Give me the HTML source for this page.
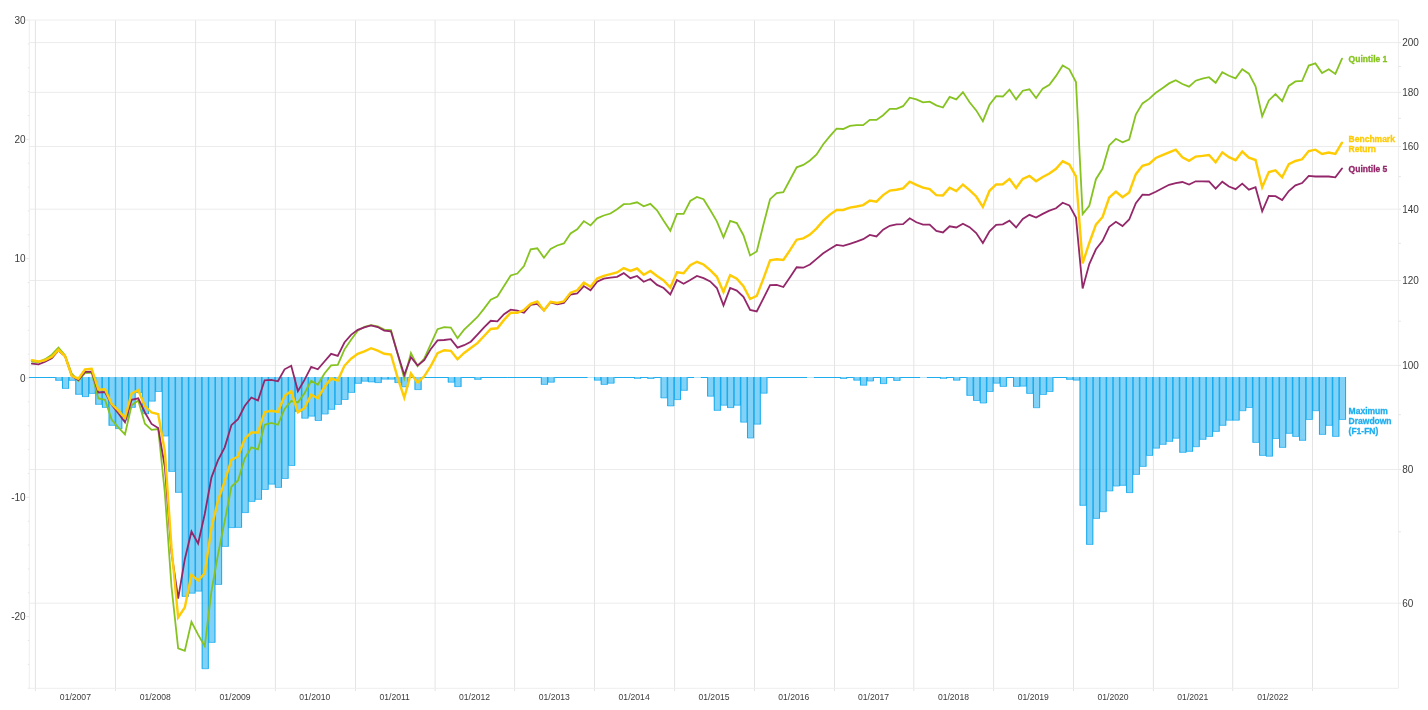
<!DOCTYPE html>
<html><head><meta charset="utf-8"><title>Chart</title>
<style>
html,body{margin:0;padding:0;background:#fff;}
body{width:1428px;height:710px;overflow:hidden;position:relative;font-family:"Liberation Sans",sans-serif;}
svg text{font-family:"Liberation Sans",sans-serif;}
</style></head><body>
<svg width="1428" height="710" viewBox="0 0 1428 710" style="position:absolute;left:0;top:0;filter:blur(0.45px)">
<rect x="0" y="0" width="1428" height="710" fill="#ffffff"/>
<path d="M29.30 42.60H1398.40M29.30 92.40H1398.40M29.30 146.50H1398.40M29.30 209.20H1398.40M29.30 280.50H1398.40M29.30 365.40H1398.40M29.30 469.50H1398.40M29.30 603.20H1398.40" stroke="#ececec" stroke-width="1" fill="none"/>
<path d="M35.40 20.00V691.10M115.50 20.00V691.10M195.60 20.00V691.10M275.40 20.00V691.10M355.50 20.00V691.10M435.10 20.00V691.10M514.60 20.00V691.10M594.50 20.00V691.10M674.60 20.00V691.10M754.50 20.00V691.10M834.50 20.00V691.10M913.80 20.00V691.10M993.60 20.00V691.10M1073.50 20.00V691.10M1153.40 20.00V691.10M1232.70 20.00V691.10M1312.50 20.00V691.10" stroke="#e4e4e4" stroke-width="1" fill="none"/>
<path d="M29.30 20.00H1398.40V688.30H29.30Z" stroke="#eeeeee" stroke-width="1" fill="none"/>
<path d="M27.80 688.23H29.30M27.80 664.37H29.30M27.80 640.50H29.30M26.30 616.64H29.30M27.80 592.78H29.30M27.80 568.91H29.30M27.80 545.05H29.30M27.80 521.18H29.30M26.30 497.32H29.30M27.80 473.46H29.30M27.80 449.59H29.30M27.80 425.73H29.30M27.80 401.86H29.30M26.30 378.00H29.30M27.80 354.14H29.30M27.80 330.27H29.30M27.80 306.41H29.30M27.80 282.54H29.30M26.30 258.68H29.30M27.80 234.82H29.30M27.80 210.95H29.30M27.80 187.09H29.30M27.80 163.22H29.30M26.30 139.36H29.30M27.80 115.50H29.30M27.80 91.63H29.30M27.80 67.77H29.30M27.80 43.90H29.30M26.30 20.04H29.30M1398.40 66.50H1400.90M1398.40 118.33H1400.90M1398.40 176.66H1400.90M1398.40 243.34H1400.90M1398.40 321.19H1400.90M1398.40 414.70H1400.90M1398.40 531.82H1400.90M1398.40 42.60H1400.90M1398.40 92.40H1400.90M1398.40 146.50H1400.90M1398.40 209.20H1400.90M1398.40 280.50H1400.90M1398.40 365.40H1400.90M1398.40 469.50H1400.90M1398.40 603.20H1400.90" stroke="#e6e6e6" stroke-width="1" fill="none"/>
<path d="M55.60 377.00H62.25V380.40H55.60ZM62.25 377.00H68.90V388.50H62.25ZM68.90 377.00H75.55V380.40H68.90ZM75.55 377.00H82.20V394.40H75.55ZM82.20 377.00H88.85V396.70H82.20ZM88.85 377.00H95.50V393.50H88.85ZM95.50 377.00H102.16V404.40H95.50ZM102.16 377.00H108.81V407.50H102.16ZM108.81 377.00H115.46V425.40H108.81ZM115.46 377.00H122.11V428.70H115.46ZM122.11 377.00H128.76V420.00H122.11ZM128.76 377.00H135.41V407.50H128.76ZM135.41 377.00H142.06V392.70H135.41ZM142.06 377.00H148.71V413.90H142.06ZM148.71 377.00H155.36V401.20H148.71ZM155.36 377.00H162.01V391.60H155.36ZM162.01 377.00H168.66V436.10H162.01ZM168.66 377.00H175.31V471.50H168.66ZM175.31 377.00H181.96V492.40H175.31ZM181.96 377.00H188.61V596.50H181.96ZM188.61 377.00H195.26V593.30H188.61ZM195.26 377.00H201.91V591.20H195.26ZM201.91 377.00H208.56V668.80H201.91ZM208.56 377.00H215.21V642.50H208.56ZM215.21 377.00H221.86V584.50H215.21ZM221.86 377.00H228.51V546.50H221.86ZM228.52 377.00H235.17V527.70H228.52ZM235.17 377.00H241.82V527.50H235.17ZM241.82 377.00H248.47V512.70H241.82ZM248.47 377.00H255.12V501.50H248.47ZM255.12 377.00H261.77V499.40H255.12ZM261.77 377.00H268.42V489.60H261.77ZM268.42 377.00H275.07V484.20H268.42ZM275.07 377.00H281.72V487.50H275.07ZM281.72 377.00H288.37V478.60H281.72ZM288.37 377.00H295.02V465.60H288.37ZM295.02 377.00H301.67V411.40H295.02ZM301.67 377.00H308.32V418.30H301.67ZM308.32 377.00H314.97V416.20H308.32ZM314.97 377.00H321.62V420.60H314.97ZM321.62 377.00H328.27V414.10H321.62ZM328.27 377.00H334.92V409.40H328.27ZM334.92 377.00H341.57V404.50H334.92ZM341.57 377.00H348.22V399.60H341.57ZM348.22 377.00H354.87V392.50H348.22ZM354.87 377.00H361.53V383.40H354.87ZM361.52 377.00H368.18V381.30H361.52ZM368.18 377.00H374.83V382.00H368.18ZM374.83 377.00H381.48V382.70H374.83ZM381.48 377.00H388.13V379.20H381.48ZM388.13 377.00H394.78V379.20H388.13ZM394.78 377.00H401.43V382.70H394.78ZM401.43 377.00H408.08V386.90H401.43ZM414.73 377.00H421.38V389.70H414.73ZM447.98 377.00H454.63V382.30H447.98ZM454.63 377.00H461.28V386.70H454.63ZM474.58 377.00H481.23V379.40H474.58ZM541.09 377.00H547.74V384.50H541.09ZM547.74 377.00H554.39V382.30H547.74ZM594.29 377.00H600.94V380.30H594.29ZM600.94 377.00H607.59V384.50H600.94ZM607.59 377.00H614.24V383.30H607.59ZM634.20 377.00H640.85V378.40H634.20ZM647.50 377.00H654.15V378.60H647.50ZM660.80 377.00H667.45V398.00H660.80ZM667.45 377.00H674.10V406.00H667.45ZM674.10 377.00H680.75V399.70H674.10ZM680.75 377.00H687.40V390.40H680.75ZM707.35 377.00H714.00V396.30H707.35ZM714.00 377.00H720.65V410.40H714.00ZM720.65 377.00H727.30V405.30H720.65ZM727.30 377.00H733.95V407.70H727.30ZM733.95 377.00H740.60V405.30H733.95ZM740.60 377.00H747.25V422.20H740.60ZM747.25 377.00H753.90V438.10H747.25ZM753.90 377.00H760.55V424.20H753.90ZM760.56 377.00H767.21V393.30H760.56ZM840.36 377.00H847.01V378.60H840.36ZM853.66 377.00H860.31V380.30H853.66ZM860.31 377.00H866.96V385.30H860.31ZM866.96 377.00H873.61V381.10H866.96ZM880.26 377.00H886.91V383.70H880.26ZM893.57 377.00H900.22V380.60H893.57ZM940.12 377.00H946.77V378.40H940.12ZM953.42 377.00H960.07V380.30H953.42ZM966.72 377.00H973.37V395.50H966.72ZM973.37 377.00H980.02V400.60H973.37ZM980.02 377.00H986.67V403.10H980.02ZM986.67 377.00H993.32V391.60H986.67ZM993.32 377.00H999.97V383.30H993.32ZM999.97 377.00H1006.62V386.50H999.97ZM1013.27 377.00H1019.92V386.50H1013.27ZM1019.92 377.00H1026.58V386.20H1019.92ZM1026.58 377.00H1033.23V393.50H1026.58ZM1033.23 377.00H1039.88V407.80H1033.23ZM1039.88 377.00H1046.53V394.60H1039.88ZM1046.53 377.00H1053.18V391.60H1046.53ZM1066.48 377.00H1073.13V379.40H1066.48ZM1073.13 377.00H1079.78V380.20H1073.13ZM1079.78 377.00H1086.43V505.40H1079.78ZM1086.43 377.00H1093.08V544.50H1086.43ZM1093.08 377.00H1099.73V518.50H1093.08ZM1099.73 377.00H1106.38V511.80H1099.73ZM1106.38 377.00H1113.03V491.00H1106.38ZM1113.03 377.00H1119.68V486.10H1113.03ZM1119.68 377.00H1126.33V485.40H1119.68ZM1126.33 377.00H1132.98V492.70H1126.33ZM1132.98 377.00H1139.63V474.50H1132.98ZM1139.63 377.00H1146.28V466.50H1139.63ZM1146.28 377.00H1152.93V455.50H1146.28ZM1152.93 377.00H1159.59V448.20H1152.93ZM1159.59 377.00H1166.24V444.40H1159.59ZM1166.24 377.00H1172.89V441.40H1166.24ZM1172.89 377.00H1179.54V438.30H1172.89ZM1179.54 377.00H1186.19V452.40H1179.54ZM1186.19 377.00H1192.84V451.40H1186.19ZM1192.84 377.00H1199.49V446.80H1192.84ZM1199.49 377.00H1206.14V439.40H1199.49ZM1206.14 377.00H1212.79V436.50H1206.14ZM1212.79 377.00H1219.44V431.50H1212.79ZM1219.44 377.00H1226.09V425.40H1219.44ZM1226.09 377.00H1232.74V420.30H1226.09ZM1232.74 377.00H1239.39V420.30H1232.74ZM1239.39 377.00H1246.04V410.80H1239.39ZM1246.04 377.00H1252.69V407.60H1246.04ZM1252.69 377.00H1259.34V442.50H1252.69ZM1259.34 377.00H1265.99V455.50H1259.34ZM1265.99 377.00H1272.64V456.30H1265.99ZM1272.64 377.00H1279.29V438.60H1272.64ZM1279.29 377.00H1285.94V447.50H1279.29ZM1285.94 377.00H1292.60V433.40H1285.94ZM1292.60 377.00H1299.25V436.50H1292.60ZM1299.25 377.00H1305.90V440.40H1299.25ZM1305.90 377.00H1312.55V419.60H1305.90ZM1312.55 377.00H1319.20V410.80H1312.55ZM1319.20 377.00H1325.85V434.50H1319.20ZM1325.85 377.00H1332.50V425.40H1325.85ZM1332.50 377.00H1339.15V436.50H1332.50ZM1339.15 377.00H1345.80V419.60H1339.15Z" fill="#1eaeef" fill-opacity="0.56" stroke="none"/>
<path d="M55.85 377.00V380.40M62.00 380.40V377.00M62.50 377.00V388.50M68.65 388.50V377.00M69.15 377.00V380.40M75.30 380.40V377.00M75.80 377.00V394.40M81.95 394.40V377.00M82.45 377.00V396.70M88.60 396.70V377.00M89.10 377.00V393.50M95.25 393.50V377.00M95.75 377.00V404.40M101.91 404.40V377.00M102.41 377.00V407.50M108.56 407.50V377.00M109.06 377.00V425.40M115.21 425.40V377.00M115.71 377.00V428.70M121.86 428.70V377.00M122.36 377.00V420.00M128.51 420.00V377.00M129.01 377.00V407.50M135.16 407.50V377.00M135.66 377.00V392.70M141.81 392.70V377.00M142.31 377.00V413.90M148.46 413.90V377.00M148.96 377.00V401.20M155.11 401.20V377.00M155.61 377.00V391.60M161.76 391.60V377.00M162.26 377.00V436.10M168.41 436.10V377.00M168.91 377.00V471.50M175.06 471.50V377.00M175.56 377.00V492.40M181.71 492.40V377.00M182.21 377.00V596.50M188.36 596.50V377.00M188.86 377.00V593.30M195.01 593.30V377.00M195.51 377.00V591.20M201.66 591.20V377.00M202.16 377.00V668.80M208.31 668.80V377.00M208.81 377.00V642.50M214.96 642.50V377.00M215.46 377.00V584.50M221.61 584.50V377.00M222.11 377.00V546.50M228.26 546.50V377.00M228.77 377.00V527.70M234.92 527.70V377.00M235.42 377.00V527.50M241.57 527.50V377.00M242.07 377.00V512.70M248.22 512.70V377.00M248.72 377.00V501.50M254.87 501.50V377.00M255.37 377.00V499.40M261.52 499.40V377.00M262.02 377.00V489.60M268.17 489.60V377.00M268.67 377.00V484.20M274.82 484.20V377.00M275.32 377.00V487.50M281.47 487.50V377.00M281.97 377.00V478.60M288.12 478.60V377.00M288.62 377.00V465.60M294.77 465.60V377.00M295.27 377.00V411.40M301.42 411.40V377.00M301.92 377.00V418.30M308.07 418.30V377.00M308.57 377.00V416.20M314.72 416.20V377.00M315.22 377.00V420.60M321.37 420.60V377.00M321.87 377.00V414.10M328.02 414.10V377.00M328.52 377.00V409.40M334.67 409.40V377.00M335.17 377.00V404.50M341.32 404.50V377.00M341.82 377.00V399.60M347.97 399.60V377.00M348.47 377.00V392.50M354.62 392.50V377.00M355.12 377.00V383.40M361.28 383.40V377.00M361.77 377.00V381.30M367.93 381.30V377.00M368.43 377.00V382.00M374.58 382.00V377.00M375.08 377.00V382.70M381.23 382.70V377.00M381.73 377.00V379.20M387.88 379.20V377.00M388.38 377.00V379.20M394.53 379.20V377.00M395.03 377.00V382.70M401.18 382.70V377.00M401.68 377.00V386.90M407.83 386.90V377.00M414.98 377.00V389.70M421.13 389.70V377.00M448.23 377.00V382.30M454.38 382.30V377.00M454.88 377.00V386.70M461.03 386.70V377.00M474.83 377.00V379.40M480.98 379.40V377.00M541.34 377.00V384.50M547.49 384.50V377.00M547.99 377.00V382.30M554.14 382.30V377.00M594.54 377.00V380.30M600.69 380.30V377.00M601.19 377.00V384.50M607.34 384.50V377.00M607.84 377.00V383.30M613.99 383.30V377.00M634.45 377.00V378.40M640.60 378.40V377.00M647.75 377.00V378.60M653.90 378.60V377.00M661.05 377.00V398.00M667.20 398.00V377.00M667.70 377.00V406.00M673.85 406.00V377.00M674.35 377.00V399.70M680.50 399.70V377.00M681.00 377.00V390.40M687.15 390.40V377.00M707.60 377.00V396.30M713.75 396.30V377.00M714.25 377.00V410.40M720.40 410.40V377.00M720.90 377.00V405.30M727.05 405.30V377.00M727.55 377.00V407.70M733.70 407.70V377.00M734.20 377.00V405.30M740.35 405.30V377.00M740.85 377.00V422.20M747.00 422.20V377.00M747.50 377.00V438.10M753.65 438.10V377.00M754.15 377.00V424.20M760.30 424.20V377.00M760.81 377.00V393.30M766.96 393.30V377.00M840.61 377.00V378.60M846.76 378.60V377.00M853.91 377.00V380.30M860.06 380.30V377.00M860.56 377.00V385.30M866.71 385.30V377.00M867.21 377.00V381.10M873.36 381.10V377.00M880.51 377.00V383.70M886.66 383.70V377.00M893.82 377.00V380.60M899.97 380.60V377.00M940.37 377.00V378.40M946.52 378.40V377.00M953.67 377.00V380.30M959.82 380.30V377.00M966.97 377.00V395.50M973.12 395.50V377.00M973.62 377.00V400.60M979.77 400.60V377.00M980.27 377.00V403.10M986.42 403.10V377.00M986.92 377.00V391.60M993.07 391.60V377.00M993.57 377.00V383.30M999.72 383.30V377.00M1000.22 377.00V386.50M1006.37 386.50V377.00M1013.52 377.00V386.50M1019.67 386.50V377.00M1020.17 377.00V386.20M1026.33 386.20V377.00M1026.83 377.00V393.50M1032.98 393.50V377.00M1033.48 377.00V407.80M1039.63 407.80V377.00M1040.13 377.00V394.60M1046.28 394.60V377.00M1046.78 377.00V391.60M1052.93 391.60V377.00M1066.73 377.00V379.40M1072.88 379.40V377.00M1073.38 377.00V380.20M1079.53 380.20V377.00M1080.03 377.00V505.40M1086.18 505.40V377.00M1086.68 377.00V544.50M1092.83 544.50V377.00M1093.33 377.00V518.50M1099.48 518.50V377.00M1099.98 377.00V511.80M1106.13 511.80V377.00M1106.63 377.00V491.00M1112.78 491.00V377.00M1113.28 377.00V486.10M1119.43 486.10V377.00M1119.93 377.00V485.40M1126.08 485.40V377.00M1126.58 377.00V492.70M1132.73 492.70V377.00M1133.23 377.00V474.50M1139.38 474.50V377.00M1139.88 377.00V466.50M1146.03 466.50V377.00M1146.53 377.00V455.50M1152.68 455.50V377.00M1153.18 377.00V448.20M1159.34 448.20V377.00M1159.84 377.00V444.40M1165.99 444.40V377.00M1166.49 377.00V441.40M1172.64 441.40V377.00M1173.14 377.00V438.30M1179.29 438.30V377.00M1179.79 377.00V452.40M1185.94 452.40V377.00M1186.44 377.00V451.40M1192.59 451.40V377.00M1193.09 377.00V446.80M1199.24 446.80V377.00M1199.74 377.00V439.40M1205.89 439.40V377.00M1206.39 377.00V436.50M1212.54 436.50V377.00M1213.04 377.00V431.50M1219.19 431.50V377.00M1219.69 377.00V425.40M1225.84 425.40V377.00M1226.34 377.00V420.30M1232.49 420.30V377.00M1232.99 377.00V420.30M1239.14 420.30V377.00M1239.64 377.00V410.80M1245.79 410.80V377.00M1246.29 377.00V407.60M1252.44 407.60V377.00M1252.94 377.00V442.50M1259.09 442.50V377.00M1259.59 377.00V455.50M1265.74 455.50V377.00M1266.24 377.00V456.30M1272.39 456.30V377.00M1272.89 377.00V438.60M1279.04 438.60V377.00M1279.54 377.00V447.50M1285.69 447.50V377.00M1286.19 377.00V433.40M1292.35 433.40V377.00M1292.85 377.00V436.50M1299.00 436.50V377.00M1299.50 377.00V440.40M1305.65 440.40V377.00M1306.15 377.00V419.60M1312.30 419.60V377.00M1312.80 377.00V410.80M1318.95 410.80V377.00M1319.45 377.00V434.50M1325.60 434.50V377.00M1326.10 377.00V425.40M1332.25 425.40V377.00M1332.75 377.00V436.50M1338.90 436.50V377.00M1339.40 377.00V419.60M1345.55 419.60V377.00" fill="none" stroke="#19acef" stroke-width="1.05" stroke-opacity="1"/>
<path d="M55.60 380.30H62.25M62.25 388.40H68.90M68.90 380.30H75.55M75.55 394.30H82.20M82.20 396.60H88.85M88.85 393.40H95.50M95.50 404.30H102.16M102.16 407.40H108.81M108.81 425.30H115.46M115.46 428.60H122.11M122.11 419.90H128.76M128.76 407.40H135.41M135.41 392.60H142.06M142.06 413.80H148.71M148.71 401.10H155.36M155.36 391.50H162.01M162.01 436.00H168.66M168.66 471.40H175.31M175.31 492.30H181.96M181.96 596.40H188.61M188.61 593.20H195.26M195.26 591.10H201.91M201.91 668.70H208.56M208.56 642.40H215.21M215.21 584.40H221.86M221.86 546.40H228.51M228.52 527.60H235.17M235.17 527.40H241.82M241.82 512.60H248.47M248.47 501.40H255.12M255.12 499.30H261.77M261.77 489.50H268.42M268.42 484.10H275.07M275.07 487.40H281.72M281.72 478.50H288.37M288.37 465.50H295.02M295.02 411.30H301.67M301.67 418.20H308.32M308.32 416.10H314.97M314.97 420.50H321.62M321.62 414.00H328.27M328.27 409.30H334.92M334.92 404.40H341.57M341.57 399.50H348.22M348.22 392.40H354.87M354.87 383.30H361.53M361.52 381.20H368.18M368.18 381.90H374.83M374.83 382.60H381.48M381.48 379.10H388.13M388.13 379.10H394.78M394.78 382.60H401.43M401.43 386.80H408.08M414.73 389.60H421.38M447.98 382.20H454.63M454.63 386.60H461.28M474.58 379.30H481.23M541.09 384.40H547.74M547.74 382.20H554.39M594.29 380.20H600.94M600.94 384.40H607.59M607.59 383.20H614.24M634.20 378.30H640.85M647.50 378.50H654.15M660.80 397.90H667.45M667.45 405.90H674.10M674.10 399.60H680.75M680.75 390.30H687.40M707.35 396.20H714.00M714.00 410.30H720.65M720.65 405.20H727.30M727.30 407.60H733.95M733.95 405.20H740.60M740.60 422.10H747.25M747.25 438.00H753.90M753.90 424.10H760.55M760.56 393.20H767.21M840.36 378.50H847.01M853.66 380.20H860.31M860.31 385.20H866.96M866.96 381.00H873.61M880.26 383.60H886.91M893.57 380.50H900.22M940.12 378.30H946.77M953.42 380.20H960.07M966.72 395.40H973.37M973.37 400.50H980.02M980.02 403.00H986.67M986.67 391.50H993.32M993.32 383.20H999.97M999.97 386.40H1006.62M1013.27 386.40H1019.92M1019.92 386.10H1026.58M1026.58 393.40H1033.23M1033.23 407.70H1039.88M1039.88 394.50H1046.53M1046.53 391.50H1053.18M1066.48 379.30H1073.13M1073.13 380.10H1079.78M1079.78 505.30H1086.43M1086.43 544.40H1093.08M1093.08 518.40H1099.73M1099.73 511.70H1106.38M1106.38 490.90H1113.03M1113.03 486.00H1119.68M1119.68 485.30H1126.33M1126.33 492.60H1132.98M1132.98 474.40H1139.63M1139.63 466.40H1146.28M1146.28 455.40H1152.93M1152.93 448.10H1159.59M1159.59 444.30H1166.24M1166.24 441.30H1172.89M1172.89 438.20H1179.54M1179.54 452.30H1186.19M1186.19 451.30H1192.84M1192.84 446.70H1199.49M1199.49 439.30H1206.14M1206.14 436.40H1212.79M1212.79 431.40H1219.44M1219.44 425.30H1226.09M1226.09 420.20H1232.74M1232.74 420.20H1239.39M1239.39 410.70H1246.04M1246.04 407.50H1252.69M1252.69 442.40H1259.34M1259.34 455.40H1265.99M1265.99 456.20H1272.64M1272.64 438.50H1279.29M1279.29 447.40H1285.94M1285.94 433.30H1292.60M1292.60 436.40H1299.25M1299.25 440.30H1305.90M1305.90 419.50H1312.55M1312.55 410.70H1319.20M1319.20 434.40H1325.85M1325.85 425.30H1332.50M1332.50 436.40H1339.15M1339.15 419.50H1345.80" stroke="#1eaeef" stroke-width="1" stroke-opacity="0.7" fill="none"/>
<path d="M29.00 377.50H35.65M35.65 377.50H42.30M42.30 377.50H48.95M48.95 377.50H55.60M408.08 377.50H414.73M421.38 377.50H428.03M428.03 377.50H434.68M434.68 377.50H441.33M441.33 377.50H447.98M461.28 377.50H467.93M467.93 377.50H474.58M481.23 377.50H487.88M487.88 377.50H494.54M494.54 377.50H501.19M501.19 377.50H507.84M507.84 377.50H514.49M514.49 377.50H521.14M521.14 377.50H527.79M527.79 377.50H534.44M534.44 377.50H541.09M554.39 377.50H561.04M561.04 377.50H567.69M567.69 377.50H574.34M574.34 377.50H580.99M580.99 377.50H587.64M614.24 377.50H620.89M620.89 377.50H627.54M627.54 377.50H634.20M640.85 377.50H647.50M654.15 377.50H660.80M687.40 377.50H694.05M700.70 377.50H707.35M767.21 377.50H773.86M773.86 377.50H780.51M780.51 377.50H787.16M787.16 377.50H793.81M793.81 377.50H800.46M800.46 377.50H807.11M813.76 377.50H820.41M820.41 377.50H827.06M827.06 377.50H833.71M833.71 377.50H840.36M847.01 377.50H853.66M873.61 377.50H880.26M886.91 377.50H893.56M900.22 377.50H906.87M906.87 377.50H913.52M913.52 377.50H920.17M926.82 377.50H933.47M933.47 377.50H940.12M946.77 377.50H953.42M960.07 377.50H966.72M1006.62 377.50H1013.27M1053.18 377.50H1059.83M1059.83 377.50H1066.48" stroke="#1eaeef" stroke-width="1.2" fill="none"/>
<path d="M587.64 377.50H594.29M694.05 377.50H700.70M807.11 377.50H813.76M920.17 377.50H926.82" stroke="#1eaeef" stroke-width="1" stroke-opacity="0.3" fill="none"/>
<polyline points="31.85,361.50 38.50,362.00 45.15,359.20 51.80,354.70 58.45,347.70 65.10,355.40 71.75,373.70 78.40,380.80 85.05,373.00 91.70,372.70 98.35,398.40 105.01,399.80 111.66,419.50 118.31,427.30 124.96,434.30 131.61,405.40 138.26,400.50 144.91,423.70 151.56,429.90 158.21,429.00 164.86,493.00 171.51,587.00 178.16,648.40 184.81,650.90 191.46,621.90 198.11,634.60 204.76,646.30 211.41,591.50 218.06,554.20 224.71,521.10 231.37,486.80 238.02,480.40 244.67,458.60 251.32,447.30 257.97,449.40 264.62,424.80 271.27,423.00 277.92,424.80 284.57,409.00 291.22,401.00 297.87,402.40 304.52,393.20 311.17,380.80 317.82,384.80 324.47,373.50 331.12,365.40 337.77,364.80 344.42,349.60 351.07,339.70 357.72,330.60 364.38,326.80 371.03,325.10 377.68,326.30 384.33,329.60 390.98,330.10 397.63,353.80 404.28,378.50 410.93,353.10 417.58,366.20 424.23,358.70 430.88,343.90 437.53,329.20 444.18,327.10 450.83,327.60 457.48,338.20 464.13,329.70 470.78,323.40 477.43,317.00 484.08,308.60 490.73,299.70 497.39,296.60 504.04,286.10 510.69,275.50 517.34,273.50 523.99,266.10 530.64,249.30 537.29,248.30 543.94,257.70 550.59,249.00 557.24,245.50 563.89,243.40 570.54,233.50 577.19,229.30 583.84,221.10 590.49,225.40 597.14,218.30 603.79,215.50 610.44,213.50 617.09,209.30 623.74,204.20 630.39,203.90 637.05,202.30 643.70,206.30 650.35,203.90 657.00,210.30 663.65,220.80 670.30,230.70 676.95,213.80 683.60,213.80 690.25,201.00 696.90,197.00 703.55,199.20 710.20,210.00 716.85,221.30 723.50,237.30 730.15,220.80 736.80,223.10 743.45,235.20 750.10,255.50 756.75,251.50 763.41,224.80 770.06,199.20 776.71,193.10 783.36,192.10 790.01,179.70 796.66,167.30 803.31,164.90 809.96,160.50 816.61,154.40 823.26,144.20 829.91,136.10 836.56,128.60 843.21,129.00 849.86,125.90 856.51,125.10 863.16,125.10 869.81,119.90 876.46,119.90 883.11,115.20 889.76,108.90 896.42,108.90 903.07,106.20 909.72,97.70 916.37,99.40 923.02,102.30 929.67,101.70 936.32,105.40 942.97,107.50 949.62,96.90 956.27,99.40 962.92,92.10 969.57,102.30 976.22,110.40 982.87,121.20 989.52,104.80 996.17,96.10 1002.82,96.50 1009.47,89.60 1016.12,99.40 1022.77,90.70 1029.42,89.30 1036.08,98.00 1042.73,88.60 1049.38,84.80 1056.03,75.90 1062.68,65.40 1069.33,69.30 1075.98,82.00 1082.63,214.10 1089.28,205.80 1095.93,179.20 1102.58,168.60 1109.23,145.40 1115.88,138.80 1122.53,142.30 1129.18,139.50 1135.83,114.60 1142.48,103.40 1149.13,98.90 1155.78,92.80 1162.43,88.20 1169.09,83.40 1175.74,80.30 1182.39,84.00 1189.04,86.60 1195.69,80.70 1202.34,78.60 1208.99,77.20 1215.64,82.80 1222.29,72.30 1228.94,75.80 1235.59,78.30 1242.24,69.20 1248.89,73.70 1255.54,86.30 1262.19,116.20 1268.84,100.40 1275.49,94.10 1282.14,101.10 1288.79,85.90 1295.44,81.40 1302.10,81.00 1308.75,65.60 1315.40,63.40 1322.05,73.00 1328.70,69.20 1335.35,73.90 1342.00,58.60" fill="none" stroke="#86c321" stroke-width="1.8" stroke-linejoin="miter" stroke-linecap="round"/>
<polyline points="31.85,363.60 38.50,364.30 45.15,361.80 51.80,358.20 58.45,350.50 65.10,356.40 71.75,375.80 78.40,380.00 85.05,371.90 91.70,371.60 98.35,392.50 105.01,392.00 111.66,404.70 118.31,413.20 124.96,422.30 131.61,399.80 138.26,398.40 144.91,412.50 151.56,423.90 158.21,428.00 164.86,467.00 171.51,553.00 178.16,598.50 184.81,559.20 191.46,531.50 198.11,543.40 204.76,514.00 211.41,477.60 218.06,460.00 224.71,447.30 231.37,425.20 238.02,419.20 244.67,406.00 251.32,397.50 257.97,400.60 264.62,380.30 271.27,379.90 277.92,381.30 284.57,369.30 291.22,365.80 297.87,391.10 304.52,379.90 311.17,366.80 317.82,369.30 324.47,361.50 331.12,353.80 337.77,355.90 344.42,342.50 351.07,334.80 357.72,329.90 364.38,327.30 371.03,325.40 377.68,327.00 384.33,330.60 390.98,331.30 397.63,353.80 404.28,374.90 410.93,357.30 417.58,365.40 424.23,360.10 430.88,348.90 437.53,340.40 444.18,340.00 450.83,339.20 457.48,347.60 464.13,345.20 470.78,341.70 477.43,334.60 484.08,327.30 490.73,320.80 497.39,321.30 504.04,314.20 510.69,309.70 517.34,310.70 523.99,312.80 530.64,304.80 537.29,303.90 543.94,310.40 550.59,302.30 557.24,304.40 563.89,303.00 570.54,294.50 577.19,293.50 583.84,286.10 590.49,290.30 597.14,281.80 603.79,278.60 610.44,277.60 617.09,276.90 623.74,273.10 630.39,278.20 637.05,276.00 643.70,281.80 650.35,279.00 657.00,284.90 663.65,288.00 670.30,294.50 676.95,280.00 683.60,283.80 690.25,280.00 696.90,275.90 703.55,278.20 710.20,281.40 716.85,288.00 723.50,305.40 730.15,288.00 736.80,290.60 743.45,296.90 750.10,310.00 756.75,311.40 763.41,298.30 770.06,285.20 776.71,284.90 783.36,287.00 790.01,277.20 796.66,267.30 803.31,267.70 809.96,264.50 816.61,258.90 823.26,253.20 829.91,249.00 836.56,244.90 843.21,245.90 849.86,243.80 856.51,241.70 863.16,239.20 869.81,234.90 876.46,236.40 883.11,229.60 889.76,225.80 896.42,224.40 903.07,224.20 909.72,218.30 916.37,222.30 923.02,224.60 929.67,224.60 936.32,231.00 942.97,232.40 949.62,226.30 956.27,227.50 962.92,223.70 969.57,227.20 976.22,233.10 982.87,243.00 989.52,231.40 996.17,224.90 1002.82,224.40 1009.47,220.70 1016.12,227.50 1022.77,219.00 1029.42,214.80 1036.08,217.60 1042.73,213.90 1049.38,210.70 1056.03,208.30 1062.68,202.70 1069.33,205.40 1075.98,217.60 1082.63,288.50 1089.28,264.10 1095.93,249.30 1102.58,240.80 1109.23,226.80 1115.88,221.80 1122.53,226.10 1129.18,219.50 1135.83,203.10 1142.48,194.60 1149.13,194.90 1155.78,191.80 1162.43,188.30 1169.09,184.80 1175.74,183.10 1182.39,182.00 1189.04,184.50 1195.69,181.30 1202.34,181.30 1208.99,181.50 1215.64,188.60 1222.29,181.70 1228.94,186.50 1235.59,189.10 1242.24,183.60 1248.89,189.60 1255.54,187.20 1262.19,211.30 1268.84,195.90 1275.49,196.20 1282.14,200.10 1288.79,191.00 1295.44,185.40 1302.10,183.00 1308.75,175.90 1315.40,176.50 1322.05,176.50 1328.70,176.50 1335.35,177.30 1342.00,168.50" fill="none" stroke="#93276a" stroke-width="1.8" stroke-linejoin="miter" stroke-linecap="round"/>
<polyline points="31.85,360.10 38.50,361.50 45.15,360.10 51.80,356.80 58.45,349.80 65.10,356.10 71.75,375.80 78.40,378.70 85.05,369.50 91.70,368.80 98.35,389.60 105.01,389.20 111.66,404.00 118.31,410.40 124.96,418.10 131.61,393.50 138.26,390.20 144.91,406.10 151.56,412.50 158.21,414.20 164.86,451.50 171.51,547.90 178.16,617.50 184.81,607.50 191.46,574.70 198.11,580.60 204.76,573.20 211.41,528.20 218.06,500.50 224.71,481.30 231.37,460.00 238.02,456.50 244.67,438.90 251.32,432.50 257.97,432.50 264.62,412.20 271.27,410.80 277.92,412.00 284.57,396.10 291.22,391.10 297.87,412.30 304.52,408.00 311.17,394.60 317.82,398.20 324.47,386.90 331.12,378.50 337.77,380.60 344.42,365.80 351.07,358.70 357.72,353.80 364.38,351.30 371.03,348.20 377.68,350.70 384.33,353.80 390.98,354.50 397.63,377.70 404.28,397.60 410.93,373.50 417.58,382.70 424.23,376.30 430.88,365.80 437.53,353.10 444.18,350.20 450.83,350.80 457.48,359.30 464.13,353.00 470.78,348.00 477.43,343.10 484.08,336.00 490.73,329.00 497.39,328.30 504.04,319.90 510.69,312.80 517.34,312.80 523.99,310.00 530.64,303.90 537.29,301.50 543.94,310.40 550.59,301.80 557.24,303.00 563.89,301.30 570.54,292.70 577.19,290.30 583.84,282.50 590.49,286.80 597.14,278.60 603.79,275.80 610.44,274.10 617.09,272.40 623.74,268.10 630.39,270.90 637.05,268.50 643.70,274.70 650.35,271.00 657.00,276.00 663.65,280.50 670.30,287.50 676.95,272.30 683.60,273.30 690.25,265.20 696.90,261.80 703.55,264.50 710.20,270.10 716.85,276.80 723.50,292.00 730.15,275.10 736.80,278.60 743.45,286.10 750.10,299.00 756.75,295.90 763.41,278.60 770.06,260.30 776.71,259.30 783.36,260.00 790.01,250.20 796.66,239.70 803.31,238.30 809.96,234.60 816.61,228.30 823.26,220.60 829.91,214.60 836.56,210.00 843.21,210.00 849.86,207.60 856.51,206.50 863.16,205.10 869.81,200.50 876.46,201.60 883.11,195.10 889.76,190.60 896.42,189.70 903.07,188.30 909.72,181.70 916.37,184.90 923.02,187.70 929.67,189.20 936.32,195.10 942.97,195.40 949.62,187.70 956.27,191.10 962.92,184.50 969.57,190.10 976.22,196.50 982.87,207.00 989.52,190.80 996.17,184.50 1002.82,184.20 1009.47,178.90 1016.12,188.00 1022.77,178.90 1029.42,175.80 1036.08,181.30 1042.73,177.00 1049.38,173.50 1056.03,168.80 1062.68,161.30 1069.33,164.50 1075.98,176.30 1082.63,263.30 1089.28,243.00 1095.93,224.60 1102.58,217.00 1109.23,197.50 1115.88,191.50 1122.53,197.20 1129.18,192.50 1135.83,174.20 1142.48,165.80 1149.13,163.90 1155.78,158.00 1162.43,155.20 1169.09,152.40 1175.74,149.60 1182.39,157.30 1189.04,160.80 1195.69,156.60 1202.34,155.90 1208.99,155.00 1215.64,162.30 1222.29,152.40 1228.94,157.20 1235.59,160.20 1242.24,151.50 1248.89,157.60 1255.54,160.00 1262.19,187.20 1268.84,172.00 1275.49,170.30 1282.14,177.30 1288.79,164.20 1295.44,161.00 1302.10,159.30 1308.75,151.10 1315.40,149.70 1322.05,153.90 1328.70,152.50 1335.35,153.90 1342.00,142.70" fill="none" stroke="#ffcb03" stroke-width="2.4" stroke-linejoin="miter" stroke-linecap="round"/>
<text x="25.60" y="23.64" font-size="10" fill="#3c3c3c" text-anchor="end" font-weight="normal">30</text>
<text x="25.60" y="142.96" font-size="10" fill="#3c3c3c" text-anchor="end" font-weight="normal">20</text>
<text x="25.60" y="262.28" font-size="10" fill="#3c3c3c" text-anchor="end" font-weight="normal">10</text>
<text x="25.60" y="381.60" font-size="10" fill="#3c3c3c" text-anchor="end" font-weight="normal">0</text>
<text x="25.60" y="500.92" font-size="10" fill="#3c3c3c" text-anchor="end" font-weight="normal">-10</text>
<text x="25.60" y="620.24" font-size="10" fill="#3c3c3c" text-anchor="end" font-weight="normal">-20</text>
<text x="1402.20" y="46.20" font-size="10" fill="#3c3c3c" text-anchor="start" font-weight="normal">200</text>
<text x="1402.20" y="96.00" font-size="10" fill="#3c3c3c" text-anchor="start" font-weight="normal">180</text>
<text x="1402.20" y="150.10" font-size="10" fill="#3c3c3c" text-anchor="start" font-weight="normal">160</text>
<text x="1402.20" y="212.80" font-size="10" fill="#3c3c3c" text-anchor="start" font-weight="normal">140</text>
<text x="1402.20" y="284.10" font-size="10" fill="#3c3c3c" text-anchor="start" font-weight="normal">120</text>
<text x="1402.20" y="369.00" font-size="10" fill="#3c3c3c" text-anchor="start" font-weight="normal">100</text>
<text x="1402.20" y="473.10" font-size="10" fill="#3c3c3c" text-anchor="start" font-weight="normal">80</text>
<text x="1402.20" y="606.80" font-size="10" fill="#3c3c3c" text-anchor="start" font-weight="normal">60</text>
<text x="75.40" y="700.00" font-size="8.6" fill="#3c3c3c" text-anchor="middle" font-weight="normal">01/2007</text>
<text x="155.22" y="700.00" font-size="8.6" fill="#3c3c3c" text-anchor="middle" font-weight="normal">01/2008</text>
<text x="235.04" y="700.00" font-size="8.6" fill="#3c3c3c" text-anchor="middle" font-weight="normal">01/2009</text>
<text x="314.86" y="700.00" font-size="8.6" fill="#3c3c3c" text-anchor="middle" font-weight="normal">01/2010</text>
<text x="394.68" y="700.00" font-size="8.6" fill="#3c3c3c" text-anchor="middle" font-weight="normal">01/2011</text>
<text x="474.50" y="700.00" font-size="8.6" fill="#3c3c3c" text-anchor="middle" font-weight="normal">01/2012</text>
<text x="554.32" y="700.00" font-size="8.6" fill="#3c3c3c" text-anchor="middle" font-weight="normal">01/2013</text>
<text x="634.14" y="700.00" font-size="8.6" fill="#3c3c3c" text-anchor="middle" font-weight="normal">01/2014</text>
<text x="713.96" y="700.00" font-size="8.6" fill="#3c3c3c" text-anchor="middle" font-weight="normal">01/2015</text>
<text x="793.78" y="700.00" font-size="8.6" fill="#3c3c3c" text-anchor="middle" font-weight="normal">01/2016</text>
<text x="873.60" y="700.00" font-size="8.6" fill="#3c3c3c" text-anchor="middle" font-weight="normal">01/2017</text>
<text x="953.42" y="700.00" font-size="8.6" fill="#3c3c3c" text-anchor="middle" font-weight="normal">01/2018</text>
<text x="1033.24" y="700.00" font-size="8.6" fill="#3c3c3c" text-anchor="middle" font-weight="normal">01/2019</text>
<text x="1113.06" y="700.00" font-size="8.6" fill="#3c3c3c" text-anchor="middle" font-weight="normal">01/2020</text>
<text x="1192.88" y="700.00" font-size="8.6" fill="#3c3c3c" text-anchor="middle" font-weight="normal">01/2021</text>
<text x="1272.70" y="700.00" font-size="8.6" fill="#3c3c3c" text-anchor="middle" font-weight="normal">01/2022</text>
<text x="1348.60" y="62.00" font-size="8.5" fill="#86c321" text-anchor="start" font-weight="bold" stroke="#86c321" stroke-width="0.3">Quintile 1</text>
<text x="1348.60" y="142.30" font-size="8.5" fill="#ffcb03" text-anchor="start" font-weight="bold" stroke="#ffcb03" stroke-width="0.3">Benchmark</text>
<text x="1348.60" y="151.80" font-size="8.5" fill="#ffcb03" text-anchor="start" font-weight="bold" stroke="#ffcb03" stroke-width="0.3">Return</text>
<text x="1348.60" y="172.30" font-size="8.5" fill="#93276a" text-anchor="start" font-weight="bold" stroke="#93276a" stroke-width="0.3">Quintile 5</text>
<text x="1348.60" y="414.10" font-size="8.5" fill="#1eaeef" text-anchor="start" font-weight="bold" stroke="#1eaeef" stroke-width="0.3">Maximum</text>
<text x="1348.60" y="424.00" font-size="8.5" fill="#1eaeef" text-anchor="start" font-weight="bold" stroke="#1eaeef" stroke-width="0.3">Drawdown</text>
<text x="1348.60" y="433.80" font-size="8.5" fill="#1eaeef" text-anchor="start" font-weight="bold" stroke="#1eaeef" stroke-width="0.3">(F1-FN)</text>
</svg>
</body></html>
